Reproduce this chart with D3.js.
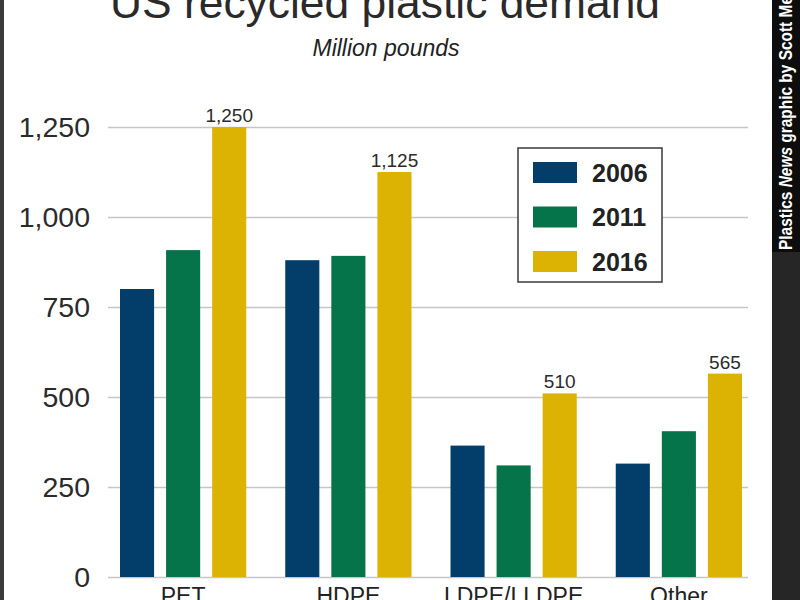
<!DOCTYPE html>
<html>
<head>
<meta charset="utf-8">
<script src="https://cdn.jsdelivr.net/npm/d3@7"></script>
<style>
  html, body { margin: 0; padding: 0; background: #fff; }
  svg { display: block; font-family: "Liberation Sans", Arial, sans-serif; }
</style>
</head>
<body>
<div id="chart"></div>
<script>
// Data
const categories = ['PET', 'HDPE', 'LDPE/LLDPE', 'Other'];
const years = ['2006', '2011', '2016'];
const values2006 = [800, 880, 365, 315];
const values2011 = [908, 892, 310, 405];
const values2016 = [1250, 1125, 510, 565];
const yTicks = [0, 250, 500, 750, 1000, 1250];
const labelled = ['2016']; // only the 2016 bars carry value labels

const seriesByYear = { '2006': values2006, '2011': values2011, '2016': values2016 };
const rows = categories.map((c, i) => ({
    category: c,
    bars: years.map(y => ({ year: y, value: seriesByYear[y][i] }))
}));

const W = 800, H = 600;
const gridLeft = 108, gridRight = 748;

const svg = d3.select('#chart')
    .append('svg')
    .attr('width', W)
    .attr('height', H);

// Scales
const x0 = d3.scaleBand()
    .domain(categories)
    .range([100.5, 761.5])
    .paddingInner(0.236)
    .paddingOuter(0.118);

const x1 = d3.scaleBand()
    .domain(years)
    .range([0, x0.bandwidth()])
    .paddingInner(0.26);

const y = d3.scaleLinear()
    .domain([0, 1250])
    .range([577, 127]);

const color = d3.scaleOrdinal()
    .domain(years)
    .range(['#033d6a', '#05744a', '#dcb302']);

// Grid + y labels
const yAxis = svg.append('g')
    .attr('transform', `translate(${gridLeft},0)`)
    .call(d3.axisLeft(y)
        .tickValues(yTicks)
        .tickSize(-(gridRight - gridLeft))
        .tickPadding(18)
        .tickFormat(d3.format(',')));
yAxis.select('.domain').remove();
yAxis.selectAll('.tick line')
    .attr('stroke', '#c6c6c6')
    .attr('stroke-width', 1.5);
yAxis.selectAll('.tick text')
    .attr('fill', '#2b2b2b')
    .style('font-size', '28.5px');

// Bars
const groups = svg.selectAll('.group')
    .data(rows)
    .enter()
    .append('g')
    .attr('class', 'group')
    .attr('transform', d => `translate(${x0(d.category)},0)`);

groups.selectAll('rect')
    .data(d => d.bars)
    .enter()
    .append('rect')
    .attr('x', d => x1(d.year))
    .attr('y', d => y(d.value))
    .attr('width', x1.bandwidth())
    .attr('height', d => y(0) - y(d.value))
    .attr('fill', d => color(d.year));

groups.selectAll('.val')
    .data(d => d.bars.filter(b => labelled.includes(b.year)))
    .enter()
    .append('text')
    .attr('class', 'val')
    .attr('x', d => x1(d.year) + x1.bandwidth() / 2)
    .attr('y', d => y(d.value) - 5)
    .attr('text-anchor', 'middle')
    .attr('fill', '#2b2b2b')
    .style('font-size', '19px')
    .text(d => d3.format(',')(d.value));

// X labels (cut by the bottom edge, as in the source)
const xAxis = svg.append('g')
    .attr('transform', 'translate(0,577)')
    .call(d3.axisBottom(x0).tickSize(0).tickPadding(10));
xAxis.select('.domain').remove();
xAxis.selectAll('.tick text')
    .attr('dy', 0)
    .attr('y', 27)
    .attr('fill', '#222')
    .style('font-size', '23px');

// Title
svg.append('text')
    .attr('x', 385)
    .attr('y', 18)
    .attr('text-anchor', 'middle')
    .attr('fill', '#2a2a2a')
    .attr('textLength', 550)
    .attr('lengthAdjust', 'spacingAndGlyphs')
    .style('font-size', '44px')
    .text('US recycled plastic demand');

svg.append('text')
    .attr('x', 386)
    .attr('y', 56)
    .attr('text-anchor', 'middle')
    .attr('fill', '#222')
    .style('font-size', '23px')
    .style('font-style', 'italic')
    .text('Million pounds');

// Legend
const legend = svg.append('g').attr('transform', 'translate(518,148)');
legend.append('rect')
    .attr('width', 144)
    .attr('height', 134)
    .attr('fill', '#fff')
    .attr('stroke', '#3a3a3a')
    .attr('stroke-width', 1.5);

years.forEach((yr, i) => {
    const row = legend.append('g').attr('transform', `translate(0, ${24.5 + i * 44.5})`);
    row.append('rect')
        .attr('x', 15)
        .attr('y', -10.5)
        .attr('width', 44)
        .attr('height', 21)
        .attr('fill', color(yr));
    row.append('text')
        .attr('x', 74)
        .attr('y', 9)
        .attr('fill', '#222')
        .style('font-size', '25px')
        .style('font-weight', 'bold')
        .text(yr);
});

// Frame: left rule and right credit band
svg.append('rect')
    .attr('x', 0).attr('y', 0)
    .attr('width', 4).attr('height', H)
    .attr('fill', '#3a3a3a');

svg.append('rect')
    .attr('x', 772).attr('y', 0)
    .attr('width', 28).attr('height', H)
    .attr('fill', '#262626');
svg.append('rect')
    .attr('x', 772).attr('y', 0)
    .attr('width', 28).attr('height', 252)
    .attr('fill', '#0d0d0d');

const credit = svg.append('text')
    .attr('transform', 'translate(792,250) rotate(-90)')
    .attr('fill', '#fff')
    .attr('textLength', 254)
    .attr('lengthAdjust', 'spacingAndGlyphs')
    .style('font-size', '18px')
    .style('font-weight', 'bold');
credit.append('tspan').text('Plastics ');
credit.append('tspan').style('font-style', 'italic').text('News');
credit.append('tspan').text(' graphic by Scott Me');
</script>
</body>
</html>
